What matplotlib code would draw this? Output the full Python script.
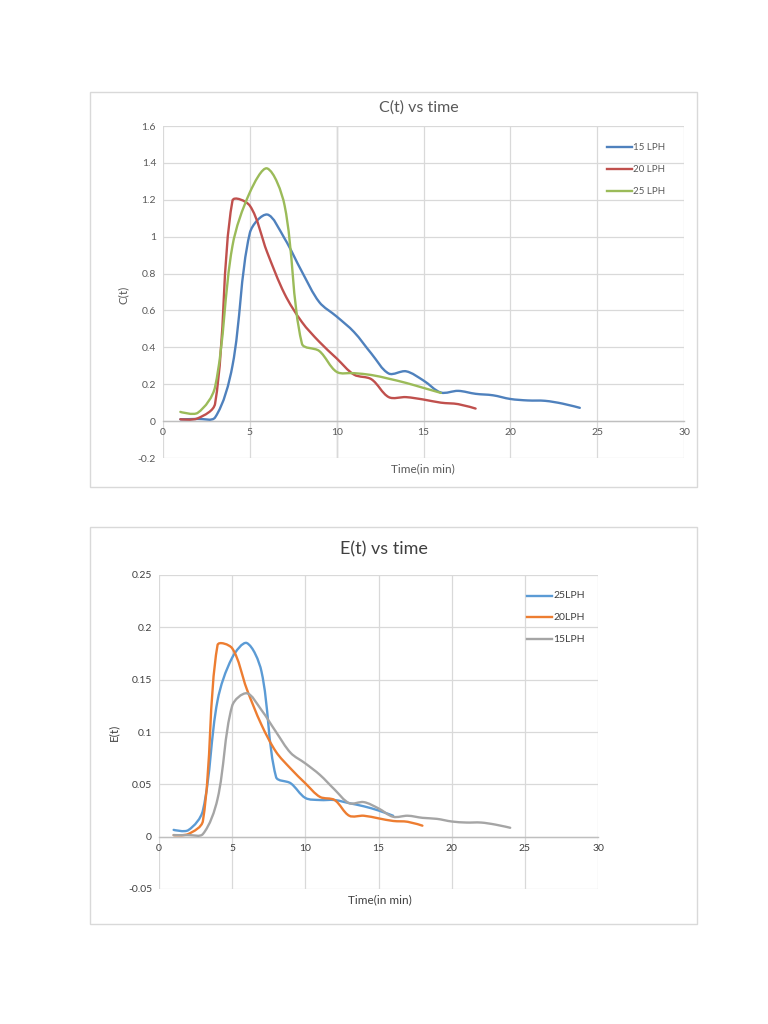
import numpy as np
import matplotlib
matplotlib.use("Agg")
import matplotlib.pyplot as plt
from matplotlib.path import Path
from matplotlib.patches import PathPatch, Rectangle
from matplotlib.lines import Line2D

plt.rcParams['font.family'] = ['Lato', 'DejaVu Sans']

# ---- data ----
t_15 = [1, 2, 3, 4, 5, 6, 7, 8, 9, 10, 11, 12, 13, 14, 15, 16, 17, 18, 19, 20, 21, 22, 23, 24]
c_15 = [0.01, 0.012, 0.02, 0.30, 1.02, 1.12, 0.99, 0.81, 0.645, 0.567, 0.483, 0.366, 0.258,
        0.27, 0.22, 0.155, 0.164, 0.148, 0.14, 0.12, 0.112, 0.11, 0.095, 0.072]
t_20 = [1, 2, 3, 4, 5, 6, 7, 8, 9, 10, 11, 12, 13, 14, 15, 16, 17, 18]
c_20 = [0.01, 0.015, 0.095, 1.195, 1.168, 0.915, 0.69, 0.537, 0.43, 0.34, 0.252, 0.227,
        0.13, 0.13, 0.117, 0.10, 0.092, 0.068]
t_25 = [1, 2, 3, 4, 5, 6, 7, 8, 9, 10, 11, 12, 13, 14, 15, 16]
c_25 = [0.05, 0.045, 0.186, 0.95, 1.24, 1.37, 1.17, 0.42, 0.38, 0.267, 0.26, 0.25, 0.23,
        0.207, 0.18, 0.153]

e_25 = [0.0065, 0.0062, 0.025, 0.13, 0.171, 0.185, 0.158, 0.057, 0.051, 0.037, 0.035, 0.035,
        0.032, 0.029, 0.025, 0.02]
e_20 = [0.0015, 0.0025, 0.015, 0.183, 0.18, 0.141, 0.107, 0.081, 0.065, 0.051, 0.038, 0.035,
        0.02, 0.02, 0.0175, 0.015, 0.0142, 0.0105]
e_15 = [0.0015, 0.0015, 0.0025, 0.036, 0.125, 0.137, 0.121, 0.1, 0.08, 0.07, 0.059, 0.045,
        0.032, 0.033, 0.027, 0.019, 0.02, 0.018, 0.017, 0.0145, 0.0135, 0.0135, 0.0115, 0.0085]

x_ticks = [0, 5, 10, 15, 20, 25, 30]
c_ticks = [-0.2, 0, 0.2, 0.4, 0.6, 0.8, 1, 1.2, 1.4, 1.6]
c_ticklabels = ["-0.2", "0", "0.2", "0.4", "0.6", "0.8", "1", "1.2", "1.4", "1.6"]
e_ticks = [-0.05, 0, 0.05, 0.1, 0.15, 0.2, 0.25]
e_ticklabels = ["-0.05", "0", "0.05", "0.1", "0.15", "0.2", "0.25"]

TXT = "#595959"
TXT2 = "#404040"
GRID = "#d9d9d9"
W, H = 768, 1024


def fx(px):
    return px / W


def fy(py):
    return 1 - py / H


def smooth_line(ax, x, y, color, lw=1.7):
    # Excel-style smoothed line: bezier control points weighted by the
    # on-screen length of the neighbouring segments
    fig_w, fig_h = ax.figure.get_size_inches() * ax.figure.dpi
    pos = ax.get_position()
    x0, x1 = ax.get_xlim()
    y0, y1 = ax.get_ylim()
    sx = pos.width * fig_w / (x1 - x0)
    sy = pos.height * fig_h / (y1 - y0)
    pts = np.column_stack([np.asarray(x, float) * sx, np.asarray(y, float) * sy])
    n = len(pts)
    k = 1 / 3
    before = pts.copy()
    after = pts.copy()
    for i in range(1, n - 1):
        d = pts[i + 1] - pts[i - 1]
        l0 = np.hypot(*(pts[i] - pts[i - 1]))
        l1 = np.hypot(*(pts[i + 1] - pts[i]))
        before[i] = pts[i] - d * k * l0 / (l0 + l1)
        after[i] = pts[i] + d * k * l1 / (l0 + l1)
    verts = [pts[0]]
    codes = [Path.MOVETO]
    for i in range(n - 1):
        verts += [after[i], before[i + 1], pts[i + 1]]
        codes += [Path.CURVE4] * 3
    verts = np.array(verts) / [sx, sy]
    ax.add_patch(PathPatch(Path(verts, codes), fill=False, edgecolor=color, lw=lw,
                           capstyle="round", joinstyle="round", zorder=3))


def style_axes(ax, yticks, ylabels, ylim, tcol, fs):
    ax.set_xlim(0, 30)
    ax.set_ylim(*ylim)
    ax.set_xticks(x_ticks)
    ax.set_yticks(yticks)
    ax.set_yticklabels(ylabels)
    ax.grid(True, color=GRID, lw=0.9)
    ax.set_axisbelow(True)
    for s in ["top", "right", "left"]:
        ax.spines[s].set_visible(False)
    ax.spines["bottom"].set_position(("data", 0))
    ax.spines["bottom"].set_color("#bfbfbf")
    ax.spines["bottom"].set_linewidth(1.0)
    ax.tick_params(length=0, labelsize=fs, colors=tcol, pad=5)


def legend(fig, x0, ys, labels, colors, tcol, fs):
    for y, lab, col in zip(ys, labels, colors):
        fig.add_artist(Line2D([fx(x0), fx(x0 + 25)], [fy(y), fy(y)], color=col, lw=1.7,
                              transform=fig.transFigure))
        fig.text(fx(x0 + 26), fy(y), lab, fontsize=fs, color=tcol, va="center", ha="left")


fig = plt.figure(figsize=(7.68, 10.24), dpi=100)

# chart frames
for (bx0, by0, bx1, by1) in [(90, 92, 697, 487), (90, 527, 697, 924)]:
    fig.add_artist(Rectangle((fx(bx0), fy(by1)), fx(bx1 - bx0), (by1 - by0) / H,
                             transform=fig.transFigure, fill=False, edgecolor="#d9d9d9", lw=1))

# ---- C(t) vs time ----
ax1 = fig.add_axes([fx(163), fy(458), fx(684 - 163), (458 - 126) / H])
style_axes(ax1, c_ticks, c_ticklabels, (-0.2, 1.6), TXT, 7.5)
ax1.axvline(10, color="#c8c8c8", lw=1.0, zorder=0)
smooth_line(ax1, t_15, c_15, "#4F81BD")
smooth_line(ax1, t_20, c_20, "#C0504D")
smooth_line(ax1, t_25, c_25, "#9BBB59")
fig.text(fx(419), fy(108), "C(t) vs time", fontsize=11.5, color=TXT, ha="center", va="center")
fig.text(fx(423), fy(469), "Time(in min)", fontsize=8.5, color=TXT, ha="center", va="center")
fig.text(fx(123), fy(295), "C(t)", fontsize=8.5, color=TXT, ha="center", va="center", rotation=90)
legend(fig, 607, [147, 169, 191], ["15 LPH", "20 LPH", "25 LPH"],
       ["#4F81BD", "#C0504D", "#9BBB59"], TXT, 7)

# ---- E(t) vs time ----
ax2 = fig.add_axes([fx(159), fy(889), fx(598 - 159), (889 - 575) / H])
style_axes(ax2, e_ticks, e_ticklabels, (-0.05, 0.25), TXT2, 7.5)
smooth_line(ax2, t_25, e_25, "#5B9BD5")
smooth_line(ax2, t_20, e_20, "#ED7D31")
smooth_line(ax2, t_15, e_15, "#A5A5A5")
fig.text(fx(384), fy(549), "E(t) vs time", fontsize=13, color=TXT2, ha="center", va="center")
fig.text(fx(380), fy(900), "Time(in min)", fontsize=8.5, color=TXT2, ha="center", va="center")
fig.text(fx(114), fy(732), "E(t)", fontsize=8.5, color=TXT2, ha="center", va="center", rotation=90)
legend(fig, 527, [596, 617, 639], ["25LPH", "20LPH", "15LPH"],
       ["#5B9BD5", "#ED7D31", "#A5A5A5"], TXT2, 7.5)

fig.savefig("out.png", dpi=100, facecolor="white")
